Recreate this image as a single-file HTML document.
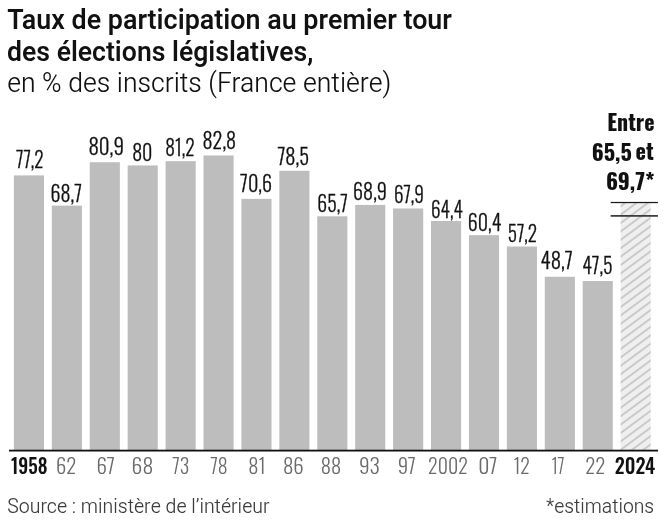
<!DOCTYPE html>
<html lang="fr"><head><meta charset="utf-8"><title>Taux de participation au premier tour des élections législatives</title>
<style>
html,body{margin:0;padding:0;background:#fff;}
body{width:664px;height:522px;overflow:hidden;position:relative;}
svg{position:absolute;left:0;top:0;display:block;}
</style></head>
<body>
<svg width="664" height="522" viewBox="0 0 664 522">
<defs>
<pattern id="hatch" patternUnits="userSpaceOnUse" width="40" height="6.75" patternTransform="translate(620.6,4.8) rotate(-36.5)">
<rect x="0" y="0" width="40" height="6.75" fill="#efefef"/>
<rect x="0" y="0" width="40" height="0.85" fill="#c4c4c4"/>
<rect x="0" y="5.9" width="40" height="0.85" fill="#c4c4c4"/>
</pattern>
</defs>
<g fill="#bdbdbd"><rect x="13.90" y="175.40" width="30.1" height="274.60"/><rect x="51.82" y="205.63" width="30.1" height="244.37"/><rect x="89.74" y="162.24" width="30.1" height="287.76"/><rect x="127.66" y="165.44" width="30.1" height="284.56"/><rect x="165.58" y="161.17" width="30.1" height="288.83"/><rect x="203.50" y="155.48" width="30.1" height="294.52"/><rect x="241.42" y="198.88" width="30.1" height="251.12"/><rect x="279.34" y="170.78" width="30.1" height="279.22"/><rect x="317.26" y="216.31" width="30.1" height="233.69"/><rect x="355.18" y="204.92" width="30.1" height="245.08"/><rect x="393.10" y="208.48" width="30.1" height="241.52"/><rect x="431.02" y="220.93" width="30.1" height="229.07"/><rect x="468.94" y="235.16" width="30.1" height="214.84"/><rect x="506.86" y="246.54" width="30.1" height="203.46"/><rect x="544.78" y="276.77" width="30.1" height="173.23"/><rect x="582.70" y="281.04" width="30.1" height="168.96"/></g>
<rect x="620.62" y="203.1" width="30.1" height="246.90" fill="url(#hatch)"/>
<rect x="610.7" y="201.9" width="47.2" height="1.25" fill="#1a1a1a"/><rect x="610.7" y="215.1" width="47.2" height="1.6" fill="#2a2a2a"/>
<rect x="9" y="449.7" width="649" height="1.8" fill="#111"/>
<text x="7.20" y="28.50" style="font-family:'Heebo','TikTok Sans','Liberation Sans',Arial,sans-serif;font-weight:600;fill:#111;font-size:27.60px" textLength="444.72" lengthAdjust="spacingAndGlyphs">Taux de participation au premier tour</text><text x="7.04" y="61.00" style="font-family:'Heebo','TikTok Sans','Liberation Sans',Arial,sans-serif;font-weight:600;fill:#111;font-size:27.60px" textLength="306.22" lengthAdjust="spacingAndGlyphs">des élections législatives,</text><text x="7.23" y="92.20" style="font-family:'Heebo','TikTok Sans','Liberation Sans',Arial,sans-serif;font-weight:300;fill:#111;font-size:27.50px" textLength="384.21" lengthAdjust="spacingAndGlyphs">en % des inscrits (France entière)</text><text x="7.23" y="512.50" style="font-family:'Heebo','TikTok Sans','Liberation Sans',Arial,sans-serif;font-weight:300;fill:#3c3c3c;font-size:20.00px" textLength="262.32" lengthAdjust="spacingAndGlyphs">Source : ministère de l’intérieur</text><text x="546.03" y="512.50" style="font-family:'Heebo','TikTok Sans','Liberation Sans',Arial,sans-serif;font-weight:300;fill:#3c3c3c;font-size:20.00px" textLength="108.17" lengthAdjust="spacingAndGlyphs">*estimations</text><text x="607.17" y="131.20" style="font-family:'Oswald','Liberation Sans Narrow','Liberation Sans',Arial,sans-serif;font-weight:700;fill:#111;font-size:21.40px" textLength="47.42" lengthAdjust="spacingAndGlyphs">Entre</text><text x="591.75" y="160.90" style="font-family:'Oswald','Liberation Sans Narrow','Liberation Sans',Arial,sans-serif;font-weight:700;fill:#111;font-size:21.40px" textLength="40.04" lengthAdjust="spacingAndGlyphs">65,5</text><text x="635.54" y="160.30" style="font-family:'Oswald','Liberation Sans Narrow','Liberation Sans',Arial,sans-serif;font-weight:700;fill:#111;font-size:21.40px" textLength="18.27" lengthAdjust="spacingAndGlyphs">et</text><text x="605.95" y="190.40" style="font-family:'Oswald','Liberation Sans Narrow','Liberation Sans',Arial,sans-serif;font-weight:700;fill:#111;font-size:21.40px" textLength="48.55" lengthAdjust="spacingAndGlyphs">69,7*</text><text x="15.95" y="168.40" style="font-family:'Oswald','Liberation Sans Narrow','Liberation Sans',Arial,sans-serif;font-weight:300;fill:#111;stroke:#111;stroke-width:0.3px;font-size:21.25px" textLength="27.73" lengthAdjust="spacingAndGlyphs">77,2</text><text x="50.52" y="202.43" style="font-family:'Oswald','Liberation Sans Narrow','Liberation Sans',Arial,sans-serif;font-weight:300;fill:#111;stroke:#111;stroke-width:0.3px;font-size:21.25px" textLength="31.41" lengthAdjust="spacingAndGlyphs">68,7</text><text x="88.40" y="155.24" style="font-family:'Oswald','Liberation Sans Narrow','Liberation Sans',Arial,sans-serif;font-weight:300;fill:#111;stroke:#111;stroke-width:0.3px;font-size:21.25px" textLength="35.49" lengthAdjust="spacingAndGlyphs">80,9</text><text x="132.13" y="160.84" style="font-family:'Oswald','Liberation Sans Narrow','Liberation Sans',Arial,sans-serif;font-weight:300;fill:#111;stroke:#111;stroke-width:0.3px;font-size:21.25px" textLength="20.32" lengthAdjust="spacingAndGlyphs">80</text><text x="165.31" y="155.97" style="font-family:'Oswald','Liberation Sans Narrow','Liberation Sans',Arial,sans-serif;font-weight:300;fill:#111;stroke:#111;stroke-width:0.3px;font-size:21.25px" textLength="29.44" lengthAdjust="spacingAndGlyphs">81,2</text><text x="202.57" y="148.88" style="font-family:'Oswald','Liberation Sans Narrow','Liberation Sans',Arial,sans-serif;font-weight:300;fill:#111;stroke:#111;stroke-width:0.3px;font-size:21.25px" textLength="33.52" lengthAdjust="spacingAndGlyphs">82,8</text><text x="240.08" y="192.28" style="font-family:'Oswald','Liberation Sans Narrow','Liberation Sans',Arial,sans-serif;font-weight:300;fill:#111;stroke:#111;stroke-width:0.3px;font-size:21.25px" textLength="31.98" lengthAdjust="spacingAndGlyphs">70,6</text><text x="277.41" y="164.58" style="font-family:'Oswald','Liberation Sans Narrow','Liberation Sans',Arial,sans-serif;font-weight:300;fill:#111;stroke:#111;stroke-width:0.3px;font-size:21.25px" textLength="31.54" lengthAdjust="spacingAndGlyphs">78,5</text><text x="317.36" y="212.11" style="font-family:'Oswald','Liberation Sans Narrow','Liberation Sans',Arial,sans-serif;font-weight:300;fill:#111;stroke:#111;stroke-width:0.3px;font-size:21.25px" textLength="30.55" lengthAdjust="spacingAndGlyphs">65,7</text><text x="353.06" y="199.92" style="font-family:'Oswald','Liberation Sans Narrow','Liberation Sans',Arial,sans-serif;font-weight:300;fill:#111;stroke:#111;stroke-width:0.3px;font-size:21.25px" textLength="33.83" lengthAdjust="spacingAndGlyphs">68,9</text><text x="394.03" y="202.88" style="font-family:'Oswald','Liberation Sans Narrow','Liberation Sans',Arial,sans-serif;font-weight:300;fill:#111;stroke:#111;stroke-width:0.3px;font-size:21.25px" textLength="29.89" lengthAdjust="spacingAndGlyphs">67,9</text><text x="430.95" y="217.93" style="font-family:'Oswald','Liberation Sans Narrow','Liberation Sans',Arial,sans-serif;font-weight:300;fill:#111;stroke:#111;stroke-width:0.3px;font-size:21.25px" textLength="31.93" lengthAdjust="spacingAndGlyphs">64,4</text><text x="467.85" y="231.16" style="font-family:'Oswald','Liberation Sans Narrow','Liberation Sans',Arial,sans-serif;font-weight:300;fill:#111;stroke:#111;stroke-width:0.3px;font-size:21.25px" textLength="33.58" lengthAdjust="spacingAndGlyphs">60,4</text><text x="507.80" y="241.54" style="font-family:'Oswald','Liberation Sans Narrow','Liberation Sans',Arial,sans-serif;font-weight:300;fill:#111;stroke:#111;stroke-width:0.3px;font-size:21.25px" textLength="29.32" lengthAdjust="spacingAndGlyphs">57,2</text><text x="540.62" y="268.77" style="font-family:'Oswald','Liberation Sans Narrow','Liberation Sans',Arial,sans-serif;font-weight:300;fill:#111;stroke:#111;stroke-width:0.3px;font-size:21.25px" textLength="32.24" lengthAdjust="spacingAndGlyphs">48,7</text><text x="582.36" y="274.24" style="font-family:'Oswald','Liberation Sans Narrow','Liberation Sans',Arial,sans-serif;font-weight:300;fill:#111;stroke:#111;stroke-width:0.3px;font-size:21.25px" textLength="30.13" lengthAdjust="spacingAndGlyphs">47,5</text><text x="10.95" y="474.40" style="font-family:'Oswald','Liberation Sans Narrow','Liberation Sans',Arial,sans-serif;font-weight:500;fill:#111;font-size:20.75px" textLength="36.52" lengthAdjust="spacingAndGlyphs">1958</text><text x="56.01" y="474.40" style="font-family:'Oswald','Liberation Sans Narrow','Liberation Sans',Arial,sans-serif;font-weight:300;fill:#6a6a6a;font-size:20.00px" textLength="20.39" lengthAdjust="spacingAndGlyphs">62</text><text x="96.50" y="474.40" style="font-family:'Oswald','Liberation Sans Narrow','Liberation Sans',Arial,sans-serif;font-weight:300;fill:#6a6a6a;font-size:20.00px" textLength="18.46" lengthAdjust="spacingAndGlyphs">67</text><text x="131.60" y="474.40" style="font-family:'Oswald','Liberation Sans Narrow','Liberation Sans',Arial,sans-serif;font-weight:300;fill:#6a6a6a;font-size:20.00px" textLength="21.64" lengthAdjust="spacingAndGlyphs">68</text><text x="172.19" y="474.40" style="font-family:'Oswald','Liberation Sans Narrow','Liberation Sans',Arial,sans-serif;font-weight:300;fill:#6a6a6a;font-size:20.00px" textLength="17.01" lengthAdjust="spacingAndGlyphs">73</text><text x="210.14" y="474.40" style="font-family:'Oswald','Liberation Sans Narrow','Liberation Sans',Arial,sans-serif;font-weight:300;fill:#6a6a6a;font-size:20.00px" textLength="17.51" lengthAdjust="spacingAndGlyphs">78</text><text x="248.39" y="474.40" style="font-family:'Oswald','Liberation Sans Narrow','Liberation Sans',Arial,sans-serif;font-weight:300;fill:#6a6a6a;font-size:20.00px" textLength="17.31" lengthAdjust="spacingAndGlyphs">81</text><text x="282.90" y="474.40" style="font-family:'Oswald','Liberation Sans Narrow','Liberation Sans',Arial,sans-serif;font-weight:300;fill:#6a6a6a;font-size:20.00px" textLength="20.93" lengthAdjust="spacingAndGlyphs">86</text><text x="320.65" y="474.40" style="font-family:'Oswald','Liberation Sans Narrow','Liberation Sans',Arial,sans-serif;font-weight:300;fill:#6a6a6a;font-size:20.00px" textLength="20.48" lengthAdjust="spacingAndGlyphs">88</text><text x="358.93" y="474.40" style="font-family:'Oswald','Liberation Sans Narrow','Liberation Sans',Arial,sans-serif;font-weight:300;fill:#6a6a6a;font-size:20.00px" textLength="20.83" lengthAdjust="spacingAndGlyphs">93</text><text x="397.66" y="474.40" style="font-family:'Oswald','Liberation Sans Narrow','Liberation Sans',Arial,sans-serif;font-weight:300;fill:#6a6a6a;font-size:20.00px" textLength="18.08" lengthAdjust="spacingAndGlyphs">97</text><text x="428.05" y="474.40" style="font-family:'Oswald','Liberation Sans Narrow','Liberation Sans',Arial,sans-serif;font-weight:300;fill:#6a6a6a;font-size:20.00px" textLength="39.72" lengthAdjust="spacingAndGlyphs">2002</text><text x="478.22" y="474.40" style="font-family:'Oswald','Liberation Sans Narrow','Liberation Sans',Arial,sans-serif;font-weight:300;fill:#6a6a6a;font-size:20.00px" textLength="19.24" lengthAdjust="spacingAndGlyphs">07</text><text x="513.51" y="474.40" style="font-family:'Oswald','Liberation Sans Narrow','Liberation Sans',Arial,sans-serif;font-weight:300;fill:#6a6a6a;font-size:20.00px" textLength="16.46" lengthAdjust="spacingAndGlyphs">12</text><text x="551.47" y="474.40" style="font-family:'Oswald','Liberation Sans Narrow','Liberation Sans',Arial,sans-serif;font-weight:300;fill:#6a6a6a;font-size:20.00px" textLength="13.06" lengthAdjust="spacingAndGlyphs">17</text><text x="585.30" y="474.40" style="font-family:'Oswald','Liberation Sans Narrow','Liberation Sans',Arial,sans-serif;font-weight:300;fill:#6a6a6a;font-size:20.00px" textLength="20.11" lengthAdjust="spacingAndGlyphs">22</text><text x="614.71" y="474.40" style="font-family:'Oswald','Liberation Sans Narrow','Liberation Sans',Arial,sans-serif;font-weight:500;fill:#111;font-size:20.75px" textLength="40.52" lengthAdjust="spacingAndGlyphs">2024</text>
</svg>
</body></html>
